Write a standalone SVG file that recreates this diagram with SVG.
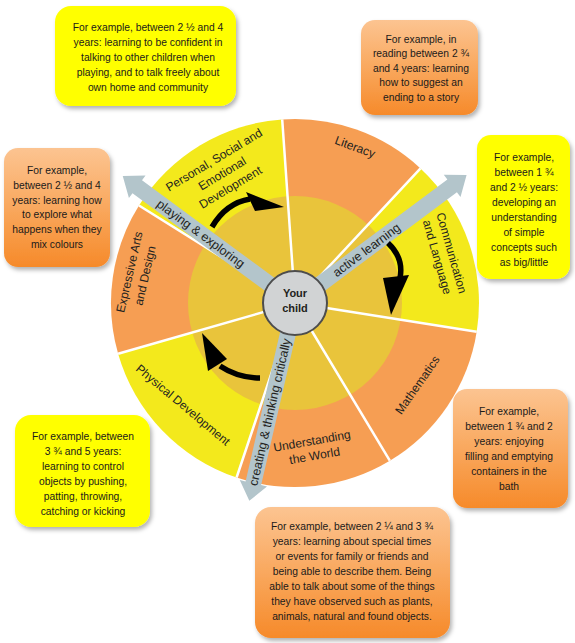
<svg xmlns="http://www.w3.org/2000/svg" width="575" height="643" viewBox="0 0 575 643">
<defs>
<linearGradient id="og" x1="0" y1="0" x2="0" y2="1">
<stop offset="0" stop-color="#fcc491"/>
<stop offset="0.5" stop-color="#f9a85e"/>
<stop offset="1" stop-color="#f68a2a"/>
</linearGradient>
<filter id="sh" x="-15%" y="-15%" width="135%" height="135%">
<feDropShadow dx="2" dy="3" stdDeviation="2" flood-color="#000" flood-opacity="0.3"/>
</filter>
</defs>
<style>
.ybox{fill:#ffff00;filter:url(#sh)}
.obox{fill:url(#og);filter:url(#sh)}
.bt{font-family:"Liberation Sans",Arial,sans-serif;font-size:10.3px;fill:#1a1a1a;text-anchor:middle}
.ys{fill:#f3e91c}
.os{fill:#f69e53}
.wl{font-family:"Liberation Sans",Arial,sans-serif;font-size:12px;fill:#231f20;text-anchor:middle}
.al{font-family:"Liberation Sans",Arial,sans-serif;font-size:12.5px;fill:#231f20;text-anchor:middle}
.sep{stroke:#fff;stroke-width:2.5;fill:none}
.garrow{fill:#b3c5cb}
.bk{fill:none;stroke:#000;stroke-width:5.5}
.bh{fill:#000}
</style>
<rect width="575" height="643" fill="#fff"/>

<g id="wheel">
<g id="sector-personal"><path class="ys" d="M295,303 L139.0,205.5 A184,184 0 0 1 282.2,119.4 Z"/></g>
<g id="sector-literacy"><path class="os" d="M295,303 L282.2,119.4 A184,184 0 0 1 420.5,168.4 Z"/></g>
<g id="sector-communication"><path class="ys" d="M295,303 L420.5,168.4 A184,184 0 0 1 476.7,331.8 Z"/></g>
<g id="sector-mathematics"><path class="os" d="M295,303 L476.7,331.8 A184,184 0 0 1 389.8,460.7 Z"/></g>
<g id="sector-understanding"><path class="os" d="M295,303 L389.8,460.7 A184,184 0 0 1 236.6,477.5 Z"/></g>
<g id="sector-physical"><path class="ys" d="M295,303 L236.6,477.5 A184,184 0 0 1 118.1,353.7 Z"/></g>
<g id="sector-expressive"><path class="os" d="M295,303 L118.1,353.7 A184,184 0 0 1 139.0,205.5 Z"/></g>
<circle cx="295" cy="303" r="107" fill="#e9c43b"/>
<path class="sep" d="M295,303 L282.2,119.4 M295,303 L420.5,168.4 M295,303 L476.7,331.8 M295,303 L389.8,460.7 M295,303 L236.6,477.5 M295,303 L118.1,353.7 M295,303 L139.0,205.5"/>
</g>

<g id="connectors">
<polygon class="garrow" transform="translate(295,303) rotate(-143.6)" points="0,-8 196,-8 196,-14 214,0 196,14 196,8 0,8"/>
<polygon class="garrow" transform="translate(295,303) rotate(-36.7)" points="0,-8 196,-8 196,-14 214,0 196,14 196,8 0,8"/>
<polygon class="garrow" transform="translate(295,303) rotate(103)" points="0,-8 185,-8 185,-14 203,0 185,14 185,8 0,8"/>
<text class="al" transform="translate(200.8,233.6) rotate(36.4)" y="4.3">playing &amp; exploring</text>
<text class="al" transform="translate(366.4,249.9) rotate(-36.7)" y="4.3">active learning</text>
<text class="al" transform="translate(269.8,412.1) rotate(-77)" y="4.3">creating &amp; thinking critically</text>
<path class="bk" d="M212,227 Q226,203 250,199"/>
<polygon class="bh" points="246,192 284,207 255,211"/>
<path class="bk" d="M388,243 Q404,258 400,278"/>
<polygon class="bh" points="383,278 409,275 391,315"/>
<path class="bk" d="M260,378 Q238,378 220,366"/>
<polygon class="bh" points="208,371 227,359 202,333"/>
</g>

<g id="label-personal">
<text class="wl" transform="translate(214,160) rotate(-31)" y="4">Personal, Social and</text>
<text class="wl" transform="translate(222.2,173.7) rotate(-31)" y="4">Emotional</text>
<text class="wl" transform="translate(230.5,187.4) rotate(-31)" y="4">Development</text>
</g>
<g id="label-literacy">
<text class="wl" transform="translate(355,147) rotate(20)" y="4">Literacy</text>
</g>
<g id="label-communication">
<text class="wl" transform="translate(451.5,253) rotate(74)" y="4">Communication</text>
<text class="wl" transform="translate(437.1,257.1) rotate(74)" y="4">and Language</text>
</g>
<g id="label-mathematics">
<text class="wl" transform="translate(417.5,385) rotate(-55)" y="4">Mathematics</text>
</g>
<g id="label-understanding">
<text class="wl" transform="translate(312,441) rotate(-10)" y="4">Understanding</text>
<text class="wl" transform="translate(314.6,455.8) rotate(-10)" y="4">the World</text>
</g>
<g id="label-physical">
<text class="wl" transform="translate(183,405) rotate(40)" y="4">Physical Development</text>
</g>
<g id="label-expressive">
<text class="wl" transform="translate(129.5,272) rotate(-77)" y="4">Expressive Arts</text>
<text class="wl" transform="translate(145.1,275.6) rotate(-77)" y="4">and Design</text>
</g>

<g id="your-child">
<circle cx="295" cy="303" r="32" fill="#d1d3d4" stroke="#4d4d4d" stroke-width="2"/>
<text font-family="'Liberation Sans',Arial,sans-serif" font-size="11" font-weight="bold" fill="#231f20" text-anchor="middle"><tspan x="295" y="297">Your</tspan><tspan x="295" y="311.5">child</tspan></text>
</g>

<g id="box-personal">
<rect class="ybox" x="55" y="6" width="181" height="100" rx="16"/>
<text class="bt"><tspan x="148" y="31">For example, between 2 ½ and 4</tspan><tspan x="148" y="46">years: learning to be confident in</tspan><tspan x="148" y="61">talking to other children when</tspan><tspan x="148" y="76">playing, and to talk freely about</tspan><tspan x="148" y="91">own home and community</tspan></text>
</g>
<g id="box-literacy">
<rect class="obox" x="361" y="20" width="117" height="95" rx="14"/>
<text class="bt"><tspan x="421" y="43">For example, in</tspan><tspan x="421" y="57.4">reading between 2 ¾</tspan><tspan x="421" y="71.8">and 4 years: learning</tspan><tspan x="421" y="86.2">how to suggest an</tspan><tspan x="421" y="100.6">ending to a story</tspan></text>
</g>
<g id="box-expressive">
<rect class="obox" x="4" y="148" width="106" height="119" rx="14"/>
<text class="bt"><tspan x="57" y="174">For example,</tspan><tspan x="57" y="188.8">between 2 ½ and 4</tspan><tspan x="57" y="203.6">years: learning how</tspan><tspan x="57" y="218.4">to explore what</tspan><tspan x="57" y="233.2">happens when they</tspan><tspan x="57" y="248">mix colours</tspan></text>
</g>
<g id="box-communication">
<rect class="ybox" x="477" y="135" width="93" height="144" rx="14"/>
<text class="bt"><tspan x="524" y="160.5">For example,</tspan><tspan x="524" y="175.5">between 1 ¾</tspan><tspan x="524" y="190.5">and 2 ½ years:</tspan><tspan x="524" y="205.5">developing an</tspan><tspan x="524" y="220.5">understanding</tspan><tspan x="524" y="235.5">of simple</tspan><tspan x="524" y="250.5">concepts such</tspan><tspan x="524" y="265.5">as big/little</tspan></text>
</g>
<g id="box-physical">
<rect class="ybox" x="15" y="415" width="135" height="112" rx="16"/>
<text class="bt"><tspan x="83" y="439.7">For example, between</tspan><tspan x="83" y="454.7">3 ¾ and 5 years:</tspan><tspan x="83" y="469.7">learning to control</tspan><tspan x="83" y="484.7">objects by pushing,</tspan><tspan x="83" y="499.7">patting, throwing,</tspan><tspan x="83" y="514.7">catching or kicking</tspan></text>
</g>
<g id="box-mathematics">
<rect class="obox" x="453" y="389" width="115" height="119" rx="14"/>
<text class="bt"><tspan x="509" y="414.7">For example,</tspan><tspan x="509" y="429.7">between 1 ¾ and 2</tspan><tspan x="509" y="444.7">years: enjoying</tspan><tspan x="509" y="459.7">filling and emptying</tspan><tspan x="509" y="474.7">containers in the</tspan><tspan x="509" y="489.7">bath</tspan></text>
</g>
<g id="box-understanding">
<rect class="obox" x="255" y="507" width="195" height="131" rx="16"/>
<text class="bt"><tspan x="352" y="529.7">For example, between 2 ¼ and 3 ¾</tspan><tspan x="352" y="544.7">years: learning about special times</tspan><tspan x="352" y="559.7">or events for family or friends and</tspan><tspan x="352" y="574.7">being able to describe them. Being</tspan><tspan x="352" y="589.7">able to talk about some of the things</tspan><tspan x="352" y="604.7">they have observed such as plants,</tspan><tspan x="352" y="619.7">animals, natural and found objects.</tspan></text>
</g>
</svg>
